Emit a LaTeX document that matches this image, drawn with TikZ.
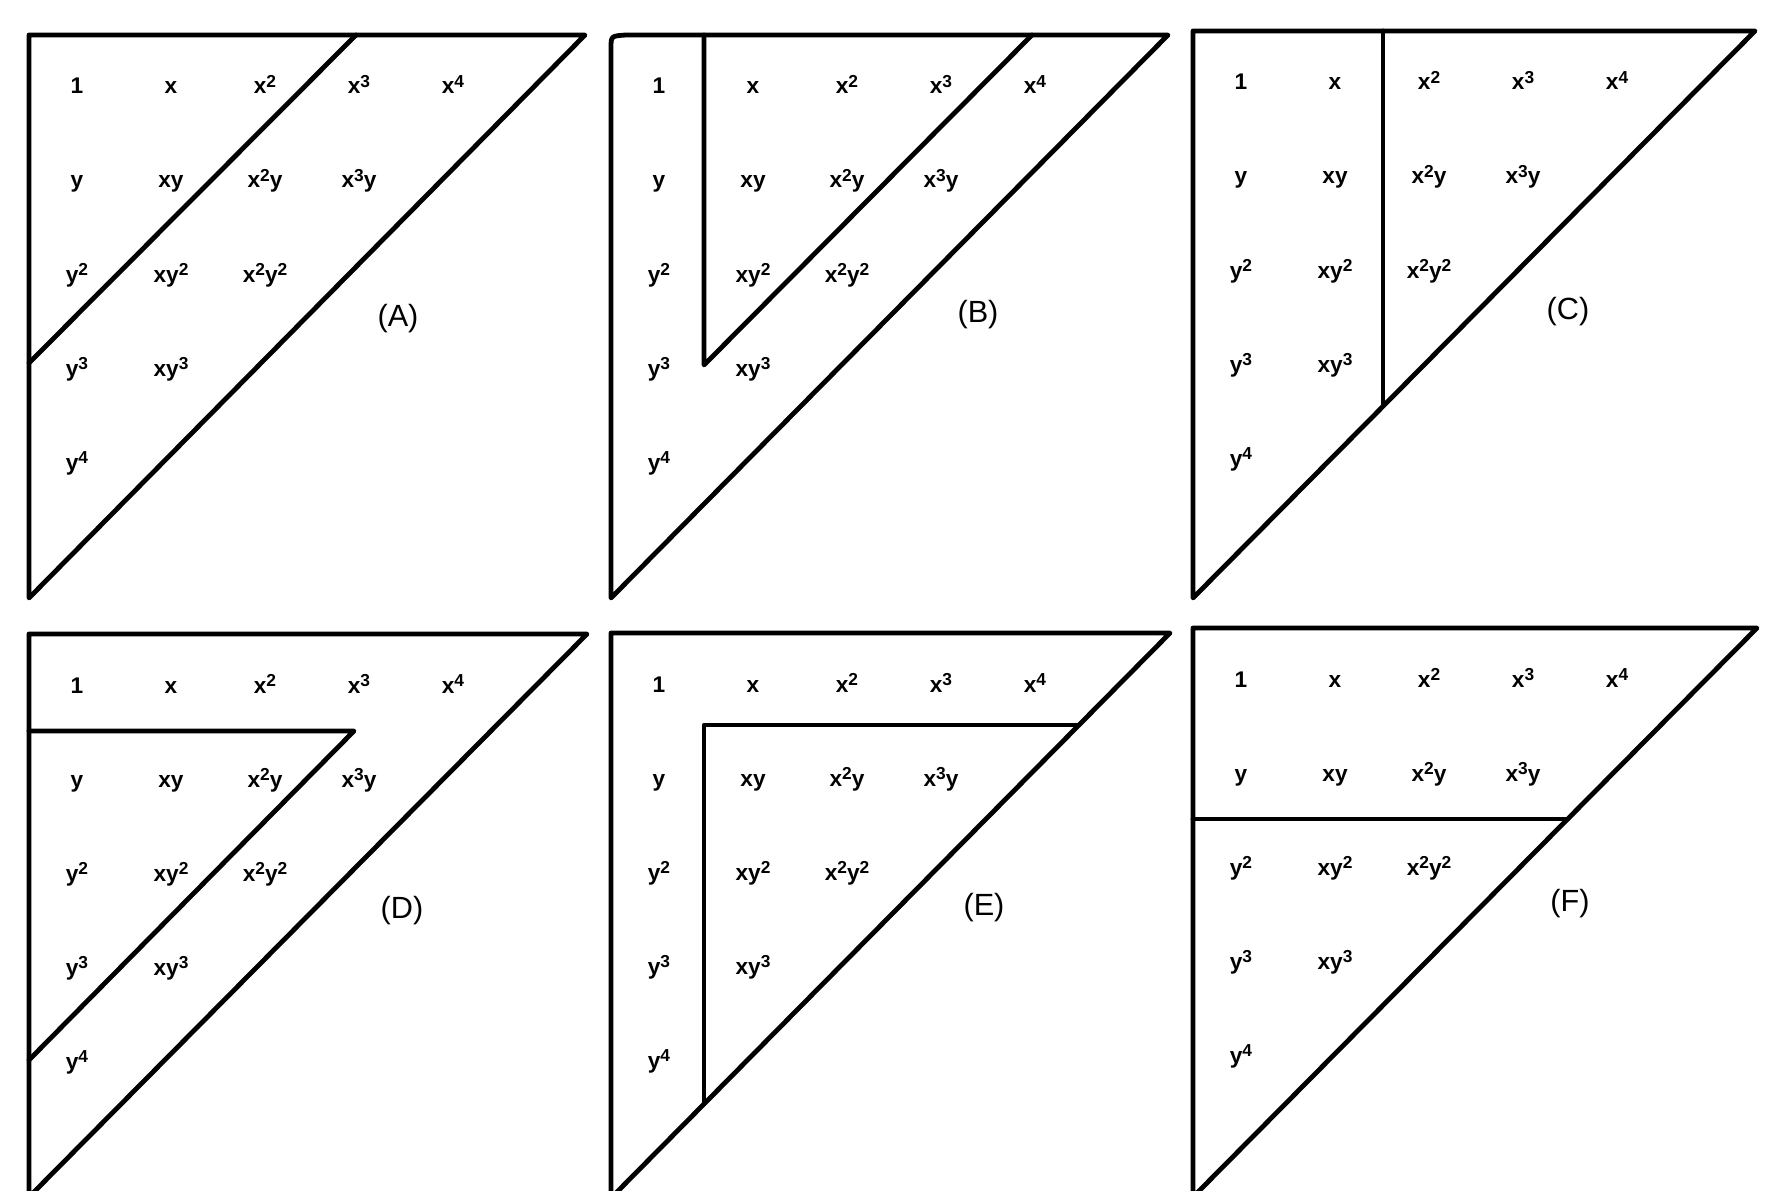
\documentclass[tikz,border=0pt]{standalone}
\usepackage{fontspec}
\setsansfont{Liberation Sans}
\newcommand{\pw}[1]{\raisebox{0.55ex}{\fontsize{13}{13}\selectfont #1}}
\tikzset{
  edge/.style={line width=3.6pt, line join=round, line cap=round},
  mono/.style={anchor=base, inner sep=0.75pt, font=\sffamily\bfseries\fontsize{17}{17}\selectfont},
  tag/.style={inner sep=0.75pt, font=\sffamily\fontsize{23}{23}\selectfont},
}

\begin{document}
\begin{tikzpicture}[x=0.75pt,y=0.75pt,yscale=-1,xscale=1]
\path [use as bounding box, fill=white] (0,0) rectangle (1766,1191);

%Panel A
\draw [edge] (29,35) -- (585,35) -- (29,598) -- cycle ;
\draw [edge] (356,35) -- (29,363) ;
\node [mono] (A00) at (77,94) {1};
\node [mono] (A10) at (171,94) {x};
\node [mono] (A20) at (265,94) {x\pw{2}};
\node [mono] (A30) at (359,94) {x\pw{3}};
\node [mono] (A40) at (453,94) {x\pw{4}};
\node [mono] (A01) at (77,188) {y};
\node [mono] (A11) at (171,188) {xy};
\node [mono] (A21) at (265,188) {x\pw{2}y};
\node [mono] (A31) at (359,188) {x\pw{3}y};
\node [mono] (A02) at (77,282) {y\pw{2}};
\node [mono] (A12) at (171,282) {xy\pw{2}};
\node [mono] (A22) at (265,282) {x\pw{2}y\pw{2}};
\node [mono] (A03) at (77,376) {y\pw{3}};
\node [mono] (A13) at (171,376) {xy\pw{3}};
\node [mono] (A04) at (77,470) {y\pw{4}};
\node [tag] (tagA) at (398,319) {(A)};

%Panel B
\draw [edge] (611,598) -- (611,48) .. controls (611,36) .. (626,35) -- (1168,35) -- cycle ;
\draw [edge] (704,35) -- (704,365) -- (1032,35) ;
\node [mono] (B00) at (659,94) {1};
\node [mono] (B10) at (753,94) {x};
\node [mono] (B20) at (847,94) {x\pw{2}};
\node [mono] (B30) at (941,94) {x\pw{3}};
\node [mono] (B40) at (1035,94) {x\pw{4}};
\node [mono] (B01) at (659,188) {y};
\node [mono] (B11) at (753,188) {xy};
\node [mono] (B21) at (847,188) {x\pw{2}y};
\node [mono] (B31) at (941,188) {x\pw{3}y};
\node [mono] (B02) at (659,282) {y\pw{2}};
\node [mono] (B12) at (753,282) {xy\pw{2}};
\node [mono] (B22) at (847,282) {x\pw{2}y\pw{2}};
\node [mono] (B03) at (659,376) {y\pw{3}};
\node [mono] (B13) at (753,376) {xy\pw{3}};
\node [mono] (B04) at (659,470) {y\pw{4}};
\node [tag] (tagB) at (978,315) {(B)};

%Panel C
\draw [edge] (1193,31) -- (1755,31) -- (1193,598) -- cycle ;
\draw [edge] (1383,31) -- (1383,406) ;
\node [mono] (C00) at (1241,90) {1};
\node [mono] (C10) at (1335,90) {x};
\node [mono] (C20) at (1429,90) {x\pw{2}};
\node [mono] (C30) at (1523,90) {x\pw{3}};
\node [mono] (C40) at (1617,90) {x\pw{4}};
\node [mono] (C01) at (1241,184) {y};
\node [mono] (C11) at (1335,184) {xy};
\node [mono] (C21) at (1429,184) {x\pw{2}y};
\node [mono] (C31) at (1523,184) {x\pw{3}y};
\node [mono] (C02) at (1241,278) {y\pw{2}};
\node [mono] (C12) at (1335,278) {xy\pw{2}};
\node [mono] (C22) at (1429,278) {x\pw{2}y\pw{2}};
\node [mono] (C03) at (1241,372) {y\pw{3}};
\node [mono] (C13) at (1335,372) {xy\pw{3}};
\node [mono] (C04) at (1241,466) {y\pw{4}};
\node [tag] (tagC) at (1568,312) {(C)};

%Panel D
\draw [edge] (29,634) -- (587,634) -- (29,1197) -- cycle ;
\draw [edge] (29,731) -- (354,731) -- (29,1060) ;
\node [mono] (D00) at (77,693) {1};
\node [mono] (D10) at (171,693) {x};
\node [mono] (D20) at (265,693) {x\pw{2}};
\node [mono] (D30) at (359,693) {x\pw{3}};
\node [mono] (D40) at (453,693) {x\pw{4}};
\node [mono] (D01) at (77,787) {y};
\node [mono] (D11) at (171,787) {xy};
\node [mono] (D21) at (265,787) {x\pw{2}y};
\node [mono] (D31) at (359,787) {x\pw{3}y};
\node [mono] (D02) at (77,881) {y\pw{2}};
\node [mono] (D12) at (171,881) {xy\pw{2}};
\node [mono] (D22) at (265,881) {x\pw{2}y\pw{2}};
\node [mono] (D03) at (77,975) {y\pw{3}};
\node [mono] (D13) at (171,975) {xy\pw{3}};
\node [mono] (D04) at (77,1069) {y\pw{4}};
\node [tag] (tagD) at (402,911) {(D)};

%Panel E
\draw [edge] (611,633) -- (1170,633) -- (611,1198) -- cycle ;
\draw [edge] (704,1104) -- (704,725) -- (1079,725) ;
\node [mono] (E00) at (659,692) {1};
\node [mono] (E10) at (753,692) {x};
\node [mono] (E20) at (847,692) {x\pw{2}};
\node [mono] (E30) at (941,692) {x\pw{3}};
\node [mono] (E40) at (1035,692) {x\pw{4}};
\node [mono] (E01) at (659,786) {y};
\node [mono] (E11) at (753,786) {xy};
\node [mono] (E21) at (847,786) {x\pw{2}y};
\node [mono] (E31) at (941,786) {x\pw{3}y};
\node [mono] (E02) at (659,880) {y\pw{2}};
\node [mono] (E12) at (753,880) {xy\pw{2}};
\node [mono] (E22) at (847,880) {x\pw{2}y\pw{2}};
\node [mono] (E03) at (659,974) {y\pw{3}};
\node [mono] (E13) at (753,974) {xy\pw{3}};
\node [mono] (E04) at (659,1068) {y\pw{4}};
\node [tag] (tagE) at (984,908) {(E)};

%Panel F
\draw [edge] (1193,628) -- (1757,628) -- (1193,1197) -- cycle ;
\draw [edge] (1193,819) -- (1568,819) ;
\node [mono] (F00) at (1241,687) {1};
\node [mono] (F10) at (1335,687) {x};
\node [mono] (F20) at (1429,687) {x\pw{2}};
\node [mono] (F30) at (1523,687) {x\pw{3}};
\node [mono] (F40) at (1617,687) {x\pw{4}};
\node [mono] (F01) at (1241,781) {y};
\node [mono] (F11) at (1335,781) {xy};
\node [mono] (F21) at (1429,781) {x\pw{2}y};
\node [mono] (F31) at (1523,781) {x\pw{3}y};
\node [mono] (F02) at (1241,875) {y\pw{2}};
\node [mono] (F12) at (1335,875) {xy\pw{2}};
\node [mono] (F22) at (1429,875) {x\pw{2}y\pw{2}};
\node [mono] (F03) at (1241,969) {y\pw{3}};
\node [mono] (F13) at (1335,969) {xy\pw{3}};
\node [mono] (F04) at (1241,1063) {y\pw{4}};
\node [tag] (tagF) at (1570,904) {(F)};

\end{tikzpicture}
\end{document}
